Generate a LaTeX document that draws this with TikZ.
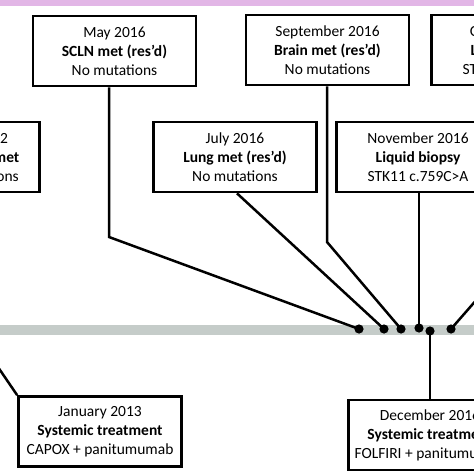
\documentclass[tikz,border=0pt]{standalone}
\usepackage{fontspec}
\setmainfont{Carlito}
\definecolor{band}{RGB}{226,182,230}
\definecolor{tline}{RGB}{197,204,201}
\begin{document}
\begin{tikzpicture}[x=1pt,y=-1pt,
  box/.style={draw, line width=2.7pt, fill=white, minimum width=163pt, minimum height=70pt,
    inner sep=0pt, align=center, font=\fontsize{15.5}{19}\selectfont},
  conn/.style={line width=2.5pt}]
\useasboundingbox (0,0) rectangle (474,474);
\clip (0,0) rectangle (474,474);
\fill[white] (0,0) rectangle (474,474);
\fill[band] (0,0) rectangle (474,6);
\fill[tline] (0,325) rectangle (474,335);

\node[box] (leftbox) at (-42,157) {December 2012\\\textbf{Primary + liver met}\\No KRAS mutations};
\node[box] (scln) at (114.5,51) {May 2016\\\textbf{SCLN met (res’d)}\\No mutations};
\node[box] (lung) at (235,157) {July 2016\\\textbf{Lung met (res’d)}\\No mutations};
\node[box] (brain) at (327.5,50) {September 2016\\\textbf{Brain met (res’d)}\\No mutations};
\node[box] (liquid) at (418,157) {November 2016\\\textbf{Liquid biopsy}\\STK11 c.759C>A};
\node[box] (octbox) at (513,50) {October 2017\\\textbf{Liquid biopsy}\\STK11 c.759C>A};
\node[box] (jan) at (100,431.5) {January 2013\\\textbf{Systemic treatment}\\CAPOX + panitumumab};
\node[box] (dec) at (430,435) {December 2016\\\textbf{Systemic treatment}\\FOLFIRI + panitumumab};

\coordinate (d0) at (-28,329);
\coordinate (d1) at (359,329);
\coordinate (d2) at (384,329);
\coordinate (d3) at (401,329);
\coordinate (d4) at (419,328);
\coordinate (d5) at (430,331);
\coordinate (d6) at (451,329);
\coordinate (k1) at (109,237);
\coordinate (k3) at (327,242);
\coordinate (k6) at (513,258);

\draw[conn] (k1 |- scln.south) -- (k1) -- (d1);
\draw[conn] ([xshift=2pt]lung.south) -- (d2);
\draw[conn] (k3 |- brain.south) -- (k3) -- (d3);
\draw[conn] (d4 |- liquid.south) -- (d4);
\draw[conn] (d5) -- (d5 |- dec.north);
\draw[conn] (octbox.south) -- (k6) -- (d6);
\draw[conn] (jan.north west) -- (d0);

\foreach \d in {d0,d1,d2,d3,d4,d5,d6} \fill (\d) circle (4.6pt);
\end{tikzpicture}
\end{document}
